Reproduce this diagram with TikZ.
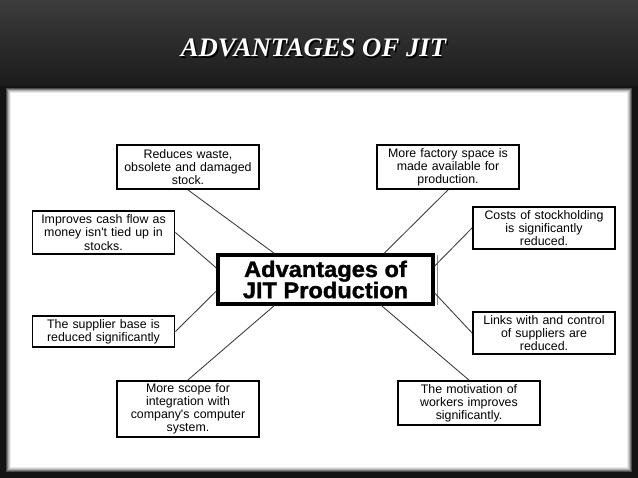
\documentclass[tikz,border=0pt]{standalone}
\usepackage{fontspec}
\newfontfamily\boxfont{Liberation Sans}
\newfontfamily\jitfont[FakeStretch=1.05,FakeBold=1.5]{Liberation Sans}
\newfontfamily\titlefont{Liberation Serif}
\usetikzlibrary{positioning,calc}
\definecolor{slidetop}{RGB}{60,60,60}
\definecolor{slidemid}{RGB}{27,27,27}
\definecolor{linkgray}{RGB}{55,55,55}

\begin{document}
\begin{tikzpicture}[x=0.025cm,y=-0.025cm,
  adv/.style={draw,line width=1.3pt,fill=white,minimum width=3.55cm,
    text width=3.38cm,align=center,inner sep=2pt,
    font=\boxfont\fontsize{8.8}{9.3}\selectfont},
  jitbox/.style={draw,line width=2.2pt,fill=white,minimum width=5.375cm,
    minimum height=1.225cm,align=center,inner sep=2pt,
    font=\jitfont\bfseries\fontsize{16}{15}\selectfont},
  link/.style={linkgray,line width=0.6pt},
  title/.style={font=\titlefont\bfseries\itshape\fontsize{19}{22}\selectfont}
]
  \useasboundingbox (0,0) rectangle (638,478);
  % slide background
  \fill[black!92] (0,0) rectangle (638,478);
  \shade[top color=slidetop,bottom color=slidemid] (0,0) rectangle (638,86);
  \foreach \d/\g in {0/70,1/50,2/32,3/18,4/8}
    \fill[black!\g] (6+\d,88+\d) rectangle (632-\d,472-\d);
  \fill[white] (11,93) rectangle (627,467);

  \node[title,black] (titleshadow) at (315,49.5) {ADVANTAGES OF JIT};
  \node[title,white] (title) at (313.5,48) {ADVANTAGES OF JIT};

  % centre and advantages
  \node[jitbox] (jit) at (325.5,279.5) {Advantages of\\JIT Production};
  \draw[black!45,line width=1.2pt] ($(jit.north east)+(3,2)$) -- ($(jit.south east)+(3,-1)$);

  \node[adv,minimum height=1.1cm] (waste) at (188,167) {Reduces waste,\\obsolete and damaged\\stock.};
  \node[adv,minimum height=1.1cm] (factory) at (448,167) {More factory space is\\made available for\\production.};
  \node[adv,minimum height=1.05cm] (costs) at (544,228) {Costs of stockholding\\is significantly\\reduced.};
  \node[adv,minimum height=1.075cm] (cash) at (103.5,232.5) {Improves cash flow as\\money isn't tied up in\\stocks.};
  \node[adv,minimum height=0.775cm] (supplier) at (103.5,331.5) {The supplier base is\\reduced significantly};
  \node[adv,minimum height=1.4cm] (scope) at (188,409) {More scope for\\integration with\\company's computer\\system.};
  \node[adv,minimum height=1.05cm] (links) at (544,333) {Links with and control\\of suppliers are\\reduced.};
  \node[adv,minimum height=1.1cm] (motivation) at (469,403) {The motivation of\\workers improves\\significantly.};

  \draw[link] (waste.south) -- (jit.153);
  \draw[link] (factory.south) -- (jit.24);
  \draw[link] (costs.west) -- (jit.7);
  \draw[link] (cash.east) -- (jit.174);
  \draw[link] (supplier.east) -- (jit.186);
  \draw[link] (scope.north) -- (jit.207);
  \draw[link] (links.west) -- (jit.-7);
  \draw[link] (motivation.north) -- (jit.-25);
\end{tikzpicture}
\end{document}
